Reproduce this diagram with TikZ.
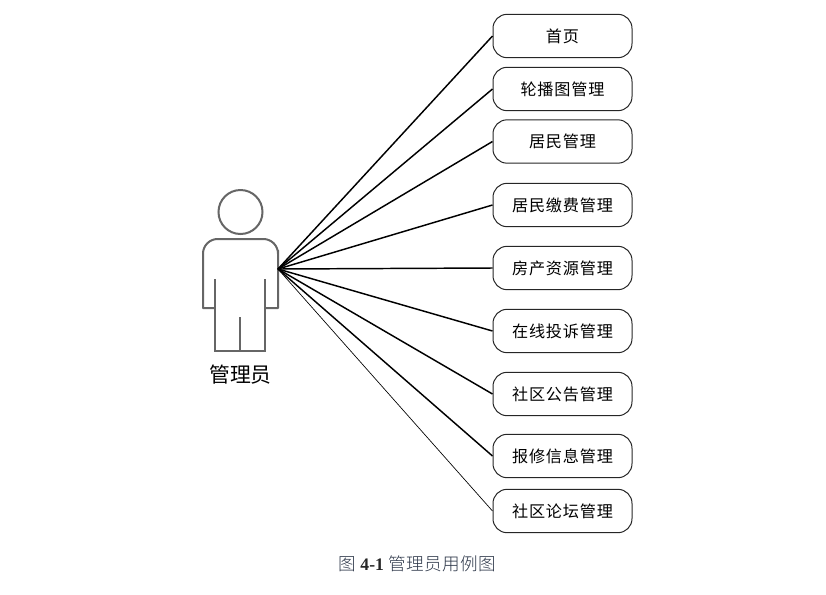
\documentclass[tikz,border=0pt]{standalone}
\usepackage{fontspec}
\newfontfamily\cjkbox[LetterSpace=5]{Noto Sans CJK SC}
\newfontfamily\cjklabel{Noto Sans CJK SC}
\newfontfamily\cjkcap[LetterSpace=3]{Noto Sans CJK SC Light}
\setmainfont{Liberation Serif}
\definecolor{actorgray}{HTML}{666666}
\definecolor{capgray}{HTML}{2C3648}
\tikzset{
  usecase/.style={draw=black!85,line width=0.75pt,rounded corners=10.5pt,minimum width=104.25pt,minimum height=32.5pt,inner sep=0pt,font=\cjkbox\fontsize{12.1pt}{14pt}\selectfont},
  actorline/.style={draw=actorgray,line width=1.5pt},
  link/.style={line width=1.1pt},
}
\begin{document}
\begin{tikzpicture}[x=0.75pt,y=-0.75pt]
      \useasboundingbox (0,0) rectangle (826,594);
      \node[actorline,circle,minimum size=33pt,inner sep=0pt] (head) at (240.5,212) {};
      \draw[actorline,line join=round] (215,308) -- (203,308) -- (203,265) [rounded corners=11pt] -- (203,239) -- (278,239) -- (278,265) [sharp corners] -- (278,308) -- (265,308);
      \draw[actorline] (215,279) -- (215,351) -- (265,351) -- (265,279);
      \draw[actorline] (240,317) -- (240,351);
      \coordinate (hand) at (278,269);
      \node[font=\cjklabel\fontsize{15.6pt}{18pt}\selectfont] (admin) at (240.5,375) {管理员};
      \node[usecase] (0) at (562.5,36) {首页};
      \node[usecase] (1) at (562.5,89) {轮播图管理};
      \node[usecase] (2) at (562.5,141.5) {居民管理};
      \node[usecase] (3) at (562.5,205) {居民缴费管理};
      \node[usecase] (4) at (562.5,268) {房产资源管理};
      \node[usecase] (5) at (562.5,331) {在线投诉管理};
      \node[usecase] (6) at (562.5,394) {社区公告管理};
      \node[usecase] (7) at (562.5,456) {报修信息管理};
      \node[usecase] (8) at (562.5,511) {社区论坛管理};
      \node[text=capgray,font=\fontsize{13.2pt}{16pt}\selectfont] (caption) at (417.5,564) {{\cjkcap 图} \textcolor{black!85}{\textbf{4-1}} {\cjkcap 管理员用例图}};
      \begin{scope}[-]
        \draw[link] (hand) to (0.west);
        \draw[link] (hand) to (1.west);
        \draw[link] (hand) to (2.west);
        \draw[link] (hand) to (3.west);
        \draw[link] (hand) to (4.west);
        \draw[link] (hand) to (5.west);
        \draw[link] (hand) to (6.west);
        \draw[link] (hand) to (7.west);
        \draw[line width=0.5pt] (hand) to (8.west);
      \end{scope}
    \end{tikzpicture}
\end{document}
